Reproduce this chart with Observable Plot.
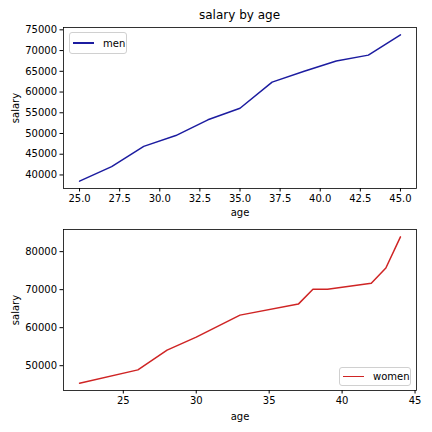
<!DOCTYPE html>
<html><head><meta charset="utf-8">
<script src="https://cdn.jsdelivr.net/npm/d3@7"></script>
<script src="https://cdn.jsdelivr.net/npm/@observablehq/plot@0.6"></script>
<style>
body{margin:0;background:#fff;font-family:"DejaVu Sans",sans-serif;}
#fig{position:relative;width:432px;height:432px;overflow:hidden;background:#fff;}
.panel{position:absolute;left:0;width:432px;height:216px;}
.panel svg{overflow:visible;}
#title{position:absolute;top:8px;left:63px;width:353px;text-align:center;font-size:12px;line-height:14px;color:#000;}
.legend{position:absolute;box-sizing:border-box;border:1px solid #d0d0d0;border-radius:3px;background:rgba(255,255,255,0.85);font-size:10px;color:#000;display:flex;align-items:center;padding-left:3px;}
.legend .sw{display:inline-block;width:21px;height:1.6px;margin-right:9px;}
</style>
</head><body>
<div id="fig">
  <div id="title">salary by age</div>
  <div id="bottom" class="panel" style="top:216px"></div>
  <div id="top" class="panel" style="top:0"></div>
  <div class="legend" style="left:69px;top:32px;width:58px;height:22px;"><span class="sw" style="background:#1c1ca0"></span>men</div>
  <div class="legend" style="left:339px;top:367px;width:72px;height:19px;"><span class="sw" style="background:#cf2424"></span>women</div>
</div>
<script>
const menAge = [25, 27, 29, 31, 33, 35, 37, 39, 41, 43, 45];
const menSalary = [38500, 42000, 46900, 49500, 53300, 56100, 62400, 65000, 67500, 68900, 73800];
const womenAge = [22, 26, 28, 30, 33, 37, 38, 39, 42, 43, 44];
const womenSalary = [45400, 48900, 54100, 57500, 63300, 66200, 70100, 70100, 71700, 75700, 83900];
const menXTicks = [25, 27.5, 30, 32.5, 35, 37.5, 40, 42.5, 45];
const menYTicks = [40000, 45000, 50000, 55000, 60000, 65000, 70000, 75000];
const womenXTicks = [25, 30, 35, 40, 45];
const womenYTicks = [50000, 60000, 70000, 80000];

function pad(vals) {
  const [a, b] = d3.extent(vals);
  const m = (b - a) * 0.05;
  return [a - m, b + m];
}

function panel(ages, salaries, color, xTicks, xFmt, yTicks, mt, mb, xLabelOffset) {
  const data = ages.map((a, i) => ({age: a, salary: salaries[i]}));
  return Plot.plot({
    width: 432,
    height: 216,
    marginLeft: 63,
    marginRight: 16,
    marginTop: mt,
    marginBottom: mb,
    style: {fontFamily: "DejaVu Sans, sans-serif", fontSize: "10px", color: "#000", background: "transparent", overflow: "visible"},
    x: {domain: pad(ages)},
    y: {domain: pad(salaries)},
    marks: [
      Plot.line(data, {x: "age", y: "salary", stroke: color, strokeWidth: 1.5}),
      Plot.frame({stroke: "#000", strokeWidth: 0.8}),
      Plot.axisX({ticks: xTicks, tickFormat: xFmt, tickSize: 3.5, tickPadding: 3, label: "age", labelAnchor: "center", labelArrow: "none", labelOffset: xLabelOffset, fontSize: 10}),
      Plot.axisY({ticks: yTicks, tickFormat: d => String(d), tickSize: 3.5, tickPadding: 3, label: "salary", labelAnchor: "center", labelArrow: "none", labelOffset: 52, fontSize: 10})
    ]
  });
}

document.getElementById("top").appendChild(
  panel(menAge, menSalary, "#1c1ca0", menXTicks, d => d.toFixed(1), menYTicks, 27, 28, 27));
document.getElementById("bottom").appendChild(
  panel(womenAge, womenSalary, "#cf2424", womenXTicks, d => String(d), womenYTicks, 13, 42, 29));
</script>
</body></html>
